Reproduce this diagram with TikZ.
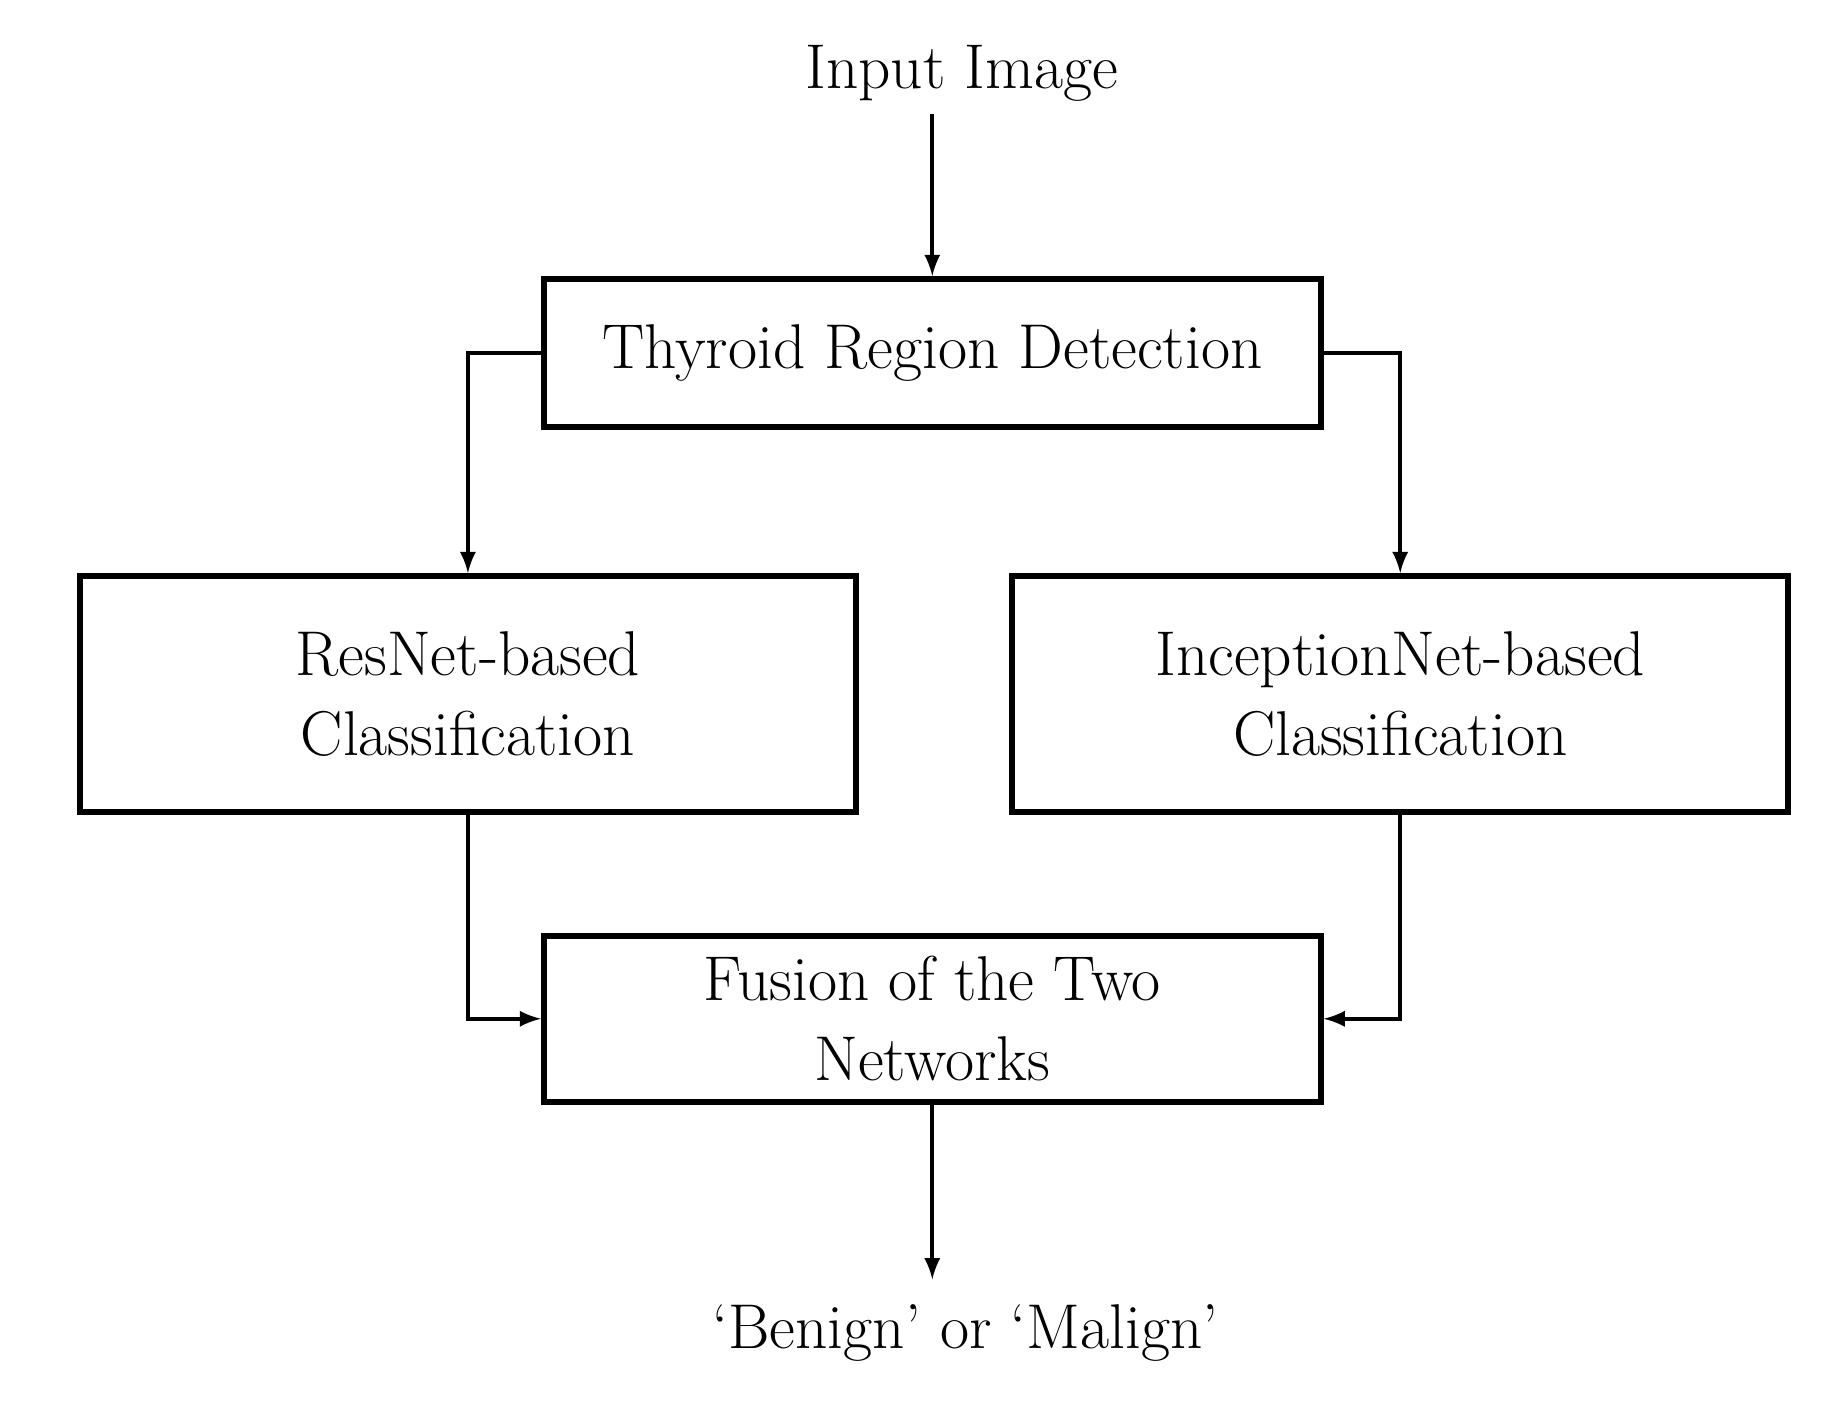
\documentclass[tikz,border=0pt]{standalone}
\usepackage{tikz}
\usetikzlibrary{arrows}
\usetikzlibrary{positioning}
\begin{document}
\begin{tikzpicture}[x=0.0125cm,y=-0.0125cm,>=latex,thick,
  box/.style={draw,line width=1.8pt,minimum width=8.19cm,align=center,font=\fontsize{19}{24}\selectfont},
  txt/.style={font=\fontsize{19}{24}\selectfont},
  link/.style={->,line width=1.2pt}]
      \useasboundingbox (0,0) rectangle (1560,1182);

      \node [txt] (input) at (812,62) {Input Image};
      \node [box,minimum height=1.56cm] (detect) at (787,298) {Thyroid Region Detection};
      \node [box,minimum height=2.49cm] (resnet) at (395,586) {ResNet-based\\Classification};
      \node [box,minimum height=2.49cm] (incept) at (1182,586) {InceptionNet-based\\Classification};
      \node [box,minimum height=1.75cm] (fusion) at (787,860) {Fusion of the Two\\Networks};
      \node [txt] (output) at (815,1125) {`Benign' or `Malign'};

      \coordinate (outend) at (787,1080);

      \draw[link] (input.south -| detect.north) -- (detect.north);
      \draw[link] (detect.west) -| (resnet.north);
      \draw[link] (detect.east) -| (incept.north);
      \draw[link] (resnet.south) |- (fusion.west);
      \draw[link] (incept.south) |- (fusion.east);
      \draw[link] (fusion.south) -- (outend);
    \end{tikzpicture}
\end{document}
